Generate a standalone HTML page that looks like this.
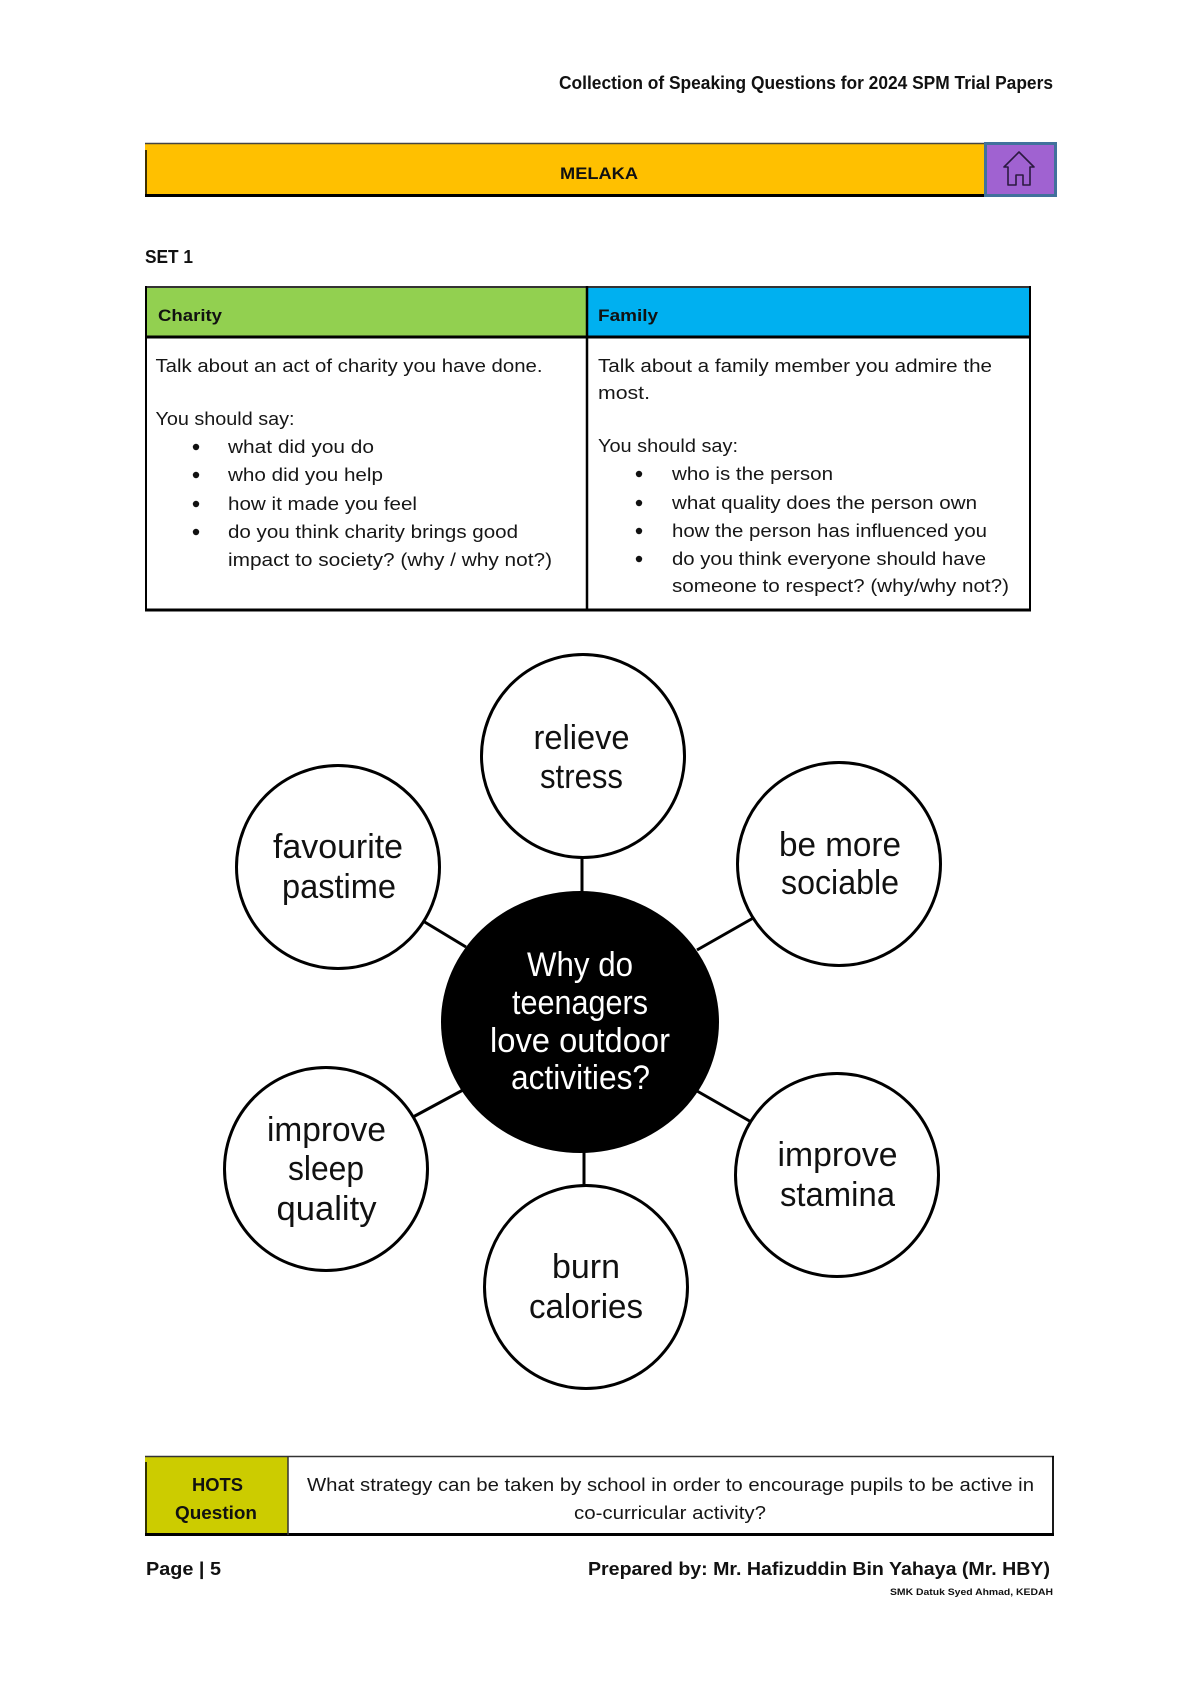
<!DOCTYPE html>
<html>
<head>
<meta charset="utf-8">
<style>
  html, body { margin: 0; padding: 0; background: #fff; }
  body { width: 1200px; height: 1696px; overflow: hidden; }
  svg { display: block; }
  text { font-family: "Liberation Sans", "DejaVu Sans", sans-serif; }
</style>
</head>
<body>
<svg width="1200" height="1696" viewBox="0 0 1200 1696" xmlns="http://www.w3.org/2000/svg">
  <rect width="1200" height="1696" fill="#ffffff"/>

  <!-- Header title -->
  <text x="559" y="89" font-size="18" font-weight="bold" fill="#111" textLength="494" lengthAdjust="spacingAndGlyphs">Collection of Speaking Questions for 2024 SPM Trial Papers</text>

  <!-- MELAKA bar -->
  <rect x="145" y="143" width="840" height="54" fill="#ffc000"/>
  <line x1="145" y1="143.5" x2="985" y2="143.5" stroke="#444" stroke-width="1.5"/>
  <line x1="145" y1="195.5" x2="985" y2="195.5" stroke="#000" stroke-width="3"/>
  <line x1="146" y1="150" x2="146" y2="197" stroke="#000" stroke-width="1.5"/>
  <text x="560" y="179" font-size="17" font-weight="bold" fill="#111" textLength="78" lengthAdjust="spacingAndGlyphs">MELAKA</text>
  <rect x="985.5" y="143.5" width="70" height="52" fill="#a062d1" stroke="#41719c" stroke-width="3"/>
  <path d="M1016 185 V175 H1023 V185 H1030 V167 H1034 L1019 152 L1004 167 H1008 V185 Z" fill="none" stroke="#2b1a40" stroke-width="1.6" stroke-linejoin="round"/>

  <!-- SET 1 -->
  <text x="145" y="263" font-size="18" font-weight="bold" fill="#111" textLength="48" lengthAdjust="spacingAndGlyphs">SET 1</text>

  <!-- Table -->
  <rect x="145" y="286" width="442" height="51" fill="#92d050"/>
  <rect x="587" y="286" width="443" height="51" fill="#00b0f0"/>
  <line x1="145" y1="287" x2="1031" y2="287" stroke="#333" stroke-width="2"/>
  <line x1="145" y1="337" x2="1031" y2="337" stroke="#000" stroke-width="3"/>
  <line x1="145" y1="610" x2="1031" y2="610" stroke="#000" stroke-width="3"/>
  <line x1="146" y1="286" x2="146" y2="611" stroke="#000" stroke-width="2"/>
  <line x1="587" y1="286" x2="587" y2="611" stroke="#000" stroke-width="2.5"/>
  <line x1="1030" y1="286" x2="1030" y2="611" stroke="#000" stroke-width="2"/>

  <text x="158" y="321" font-size="17" font-weight="bold" fill="#111" textLength="64" lengthAdjust="spacingAndGlyphs">Charity</text>
  <text x="598" y="321" font-size="17" font-weight="bold" fill="#111" textLength="60" lengthAdjust="spacingAndGlyphs">Family</text>

  <g font-size="18" fill="#161616">
    <!-- left column -->
    <text x="155.5" y="372" textLength="387" lengthAdjust="spacingAndGlyphs">Talk about an act of charity you have done.</text>
    <text x="155.5" y="425" textLength="139" lengthAdjust="spacingAndGlyphs">You should say:</text>
    <circle cx="196" cy="447" r="3.2" fill="#111"/>
    <text x="228" y="453" textLength="146" lengthAdjust="spacingAndGlyphs">what did you do</text>
    <circle cx="196" cy="475" r="3.2" fill="#111"/>
    <text x="228" y="481" textLength="155" lengthAdjust="spacingAndGlyphs">who did you help</text>
    <circle cx="196" cy="504" r="3.2" fill="#111"/>
    <text x="228" y="510" textLength="189" lengthAdjust="spacingAndGlyphs">how it made you feel</text>
    <circle cx="196" cy="532" r="3.2" fill="#111"/>
    <text x="228" y="538" textLength="290" lengthAdjust="spacingAndGlyphs">do you think charity brings good</text>
    <text x="228" y="566" textLength="324" lengthAdjust="spacingAndGlyphs">impact to society? (why / why not?)</text>

    <!-- right column -->
    <text x="598" y="372" textLength="394" lengthAdjust="spacingAndGlyphs">Talk about a family member you admire the</text>
    <text x="598" y="399" textLength="52" lengthAdjust="spacingAndGlyphs">most.</text>
    <text x="598" y="452" textLength="140" lengthAdjust="spacingAndGlyphs">You should say:</text>
    <circle cx="639" cy="474" r="3.2" fill="#111"/>
    <text x="672" y="480" textLength="161" lengthAdjust="spacingAndGlyphs">who is the person</text>
    <circle cx="639" cy="503" r="3.2" fill="#111"/>
    <text x="672" y="509" textLength="305" lengthAdjust="spacingAndGlyphs">what quality does the person own</text>
    <circle cx="639" cy="531" r="3.2" fill="#111"/>
    <text x="672" y="537" textLength="315" lengthAdjust="spacingAndGlyphs">how the person has influenced you</text>
    <circle cx="639" cy="559" r="3.2" fill="#111"/>
    <text x="672" y="565" textLength="314" lengthAdjust="spacingAndGlyphs">do you think everyone should have</text>
    <text x="672" y="592" textLength="337" lengthAdjust="spacingAndGlyphs">someone to respect? (why/why not?)</text>
  </g>

  <!-- Connectors -->
  <g stroke="#000" stroke-width="3" fill="none">
    <line x1="582" y1="856" x2="582" y2="893"/>
    <line x1="423" y1="921" x2="466" y2="947"/>
    <line x1="697" y1="950" x2="755" y2="917"/>
    <line x1="413" y1="1117" x2="463" y2="1090"/>
    <line x1="697" y1="1091" x2="753" y2="1123"/>
    <line x1="584" y1="1151" x2="584" y2="1187"/>
  </g>

  <!-- Outer circles -->
  <g stroke="#000" stroke-width="3" fill="#fff">
    <circle cx="583" cy="756" r="101.5"/>
    <circle cx="338" cy="867" r="101.5"/>
    <circle cx="839" cy="864" r="101.5"/>
    <circle cx="326" cy="1169" r="101.5"/>
    <circle cx="586" cy="1287" r="101.5"/>
    <circle cx="837" cy="1175" r="101.5"/>
  </g>

  <!-- Center ellipse -->
  <ellipse cx="580" cy="1022" rx="139" ry="131" fill="#000"/>

  <!-- Circle labels -->
  <g font-size="34" fill="#111">
    <text x="533.5" y="749" textLength="96" lengthAdjust="spacingAndGlyphs">relieve</text>
    <text x="540" y="788" textLength="83" lengthAdjust="spacingAndGlyphs">stress</text>

    <text x="273" y="858" textLength="130" lengthAdjust="spacingAndGlyphs">favourite</text>
    <text x="282" y="898" textLength="114" lengthAdjust="spacingAndGlyphs">pastime</text>

    <text x="779" y="856" textLength="122" lengthAdjust="spacingAndGlyphs">be more</text>
    <text x="781" y="894" textLength="118" lengthAdjust="spacingAndGlyphs">sociable</text>

    <text x="267" y="1141" textLength="119" lengthAdjust="spacingAndGlyphs">improve</text>
    <text x="288" y="1180" textLength="76" lengthAdjust="spacingAndGlyphs">sleep</text>
    <text x="276.5" y="1220" textLength="100" lengthAdjust="spacingAndGlyphs">quality</text>

    <text x="552" y="1278" textLength="68" lengthAdjust="spacingAndGlyphs">burn</text>
    <text x="529" y="1318" textLength="114" lengthAdjust="spacingAndGlyphs">calories</text>

    <text x="777.5" y="1166" textLength="120" lengthAdjust="spacingAndGlyphs">improve</text>
    <text x="780" y="1206" textLength="115" lengthAdjust="spacingAndGlyphs">stamina</text>
  </g>
  <g font-size="34" fill="#fff">
    <text x="527" y="976" textLength="106" lengthAdjust="spacingAndGlyphs">Why do</text>
    <text x="512" y="1014" textLength="136" lengthAdjust="spacingAndGlyphs">teenagers</text>
    <text x="490" y="1052" textLength="180" lengthAdjust="spacingAndGlyphs">love outdoor</text>
    <text x="511" y="1089" textLength="139" lengthAdjust="spacingAndGlyphs">activities?</text>
  </g>

  <!-- HOTS box -->
  <rect x="145" y="1456" width="143" height="79" fill="#cccc00"/>
  <line x1="145" y1="1456.5" x2="1054" y2="1456.5" stroke="#333" stroke-width="1.5"/>
  <line x1="145" y1="1534.5" x2="1054" y2="1534.5" stroke="#000" stroke-width="3"/>
  <line x1="146" y1="1462" x2="146" y2="1536" stroke="#000" stroke-width="1.5"/>
  <line x1="288" y1="1456" x2="288" y2="1535" stroke="#333" stroke-width="1.5"/>
  <line x1="1053" y1="1456" x2="1053" y2="1536" stroke="#000" stroke-width="1.8"/>
  <text x="192" y="1491" font-size="18" font-weight="bold" fill="#111" textLength="51" lengthAdjust="spacingAndGlyphs">HOTS</text>
  <text x="175" y="1519" font-size="18" font-weight="bold" fill="#111" textLength="82" lengthAdjust="spacingAndGlyphs">Question</text>
  <text x="307" y="1491" font-size="18" fill="#161616" textLength="727" lengthAdjust="spacingAndGlyphs">What strategy can be taken by school in order to encourage pupils to be active in</text>
  <text x="574" y="1519" font-size="18" fill="#161616" textLength="192" lengthAdjust="spacingAndGlyphs">co-curricular activity?</text>

  <!-- Footer -->
  <text x="146" y="1575" font-size="18" font-weight="bold" fill="#111" textLength="75" lengthAdjust="spacingAndGlyphs">Page | 5</text>
  <text x="588" y="1575" font-size="18" font-weight="bold" fill="#111" textLength="462" lengthAdjust="spacingAndGlyphs">Prepared by: Mr. Hafizuddin Bin Yahaya (Mr. HBY)</text>
  <text x="890" y="1595" font-size="9" font-weight="bold" fill="#111" textLength="163" lengthAdjust="spacingAndGlyphs">SMK Datuk Syed Ahmad, KEDAH</text>
</svg>
</body>
</html>
